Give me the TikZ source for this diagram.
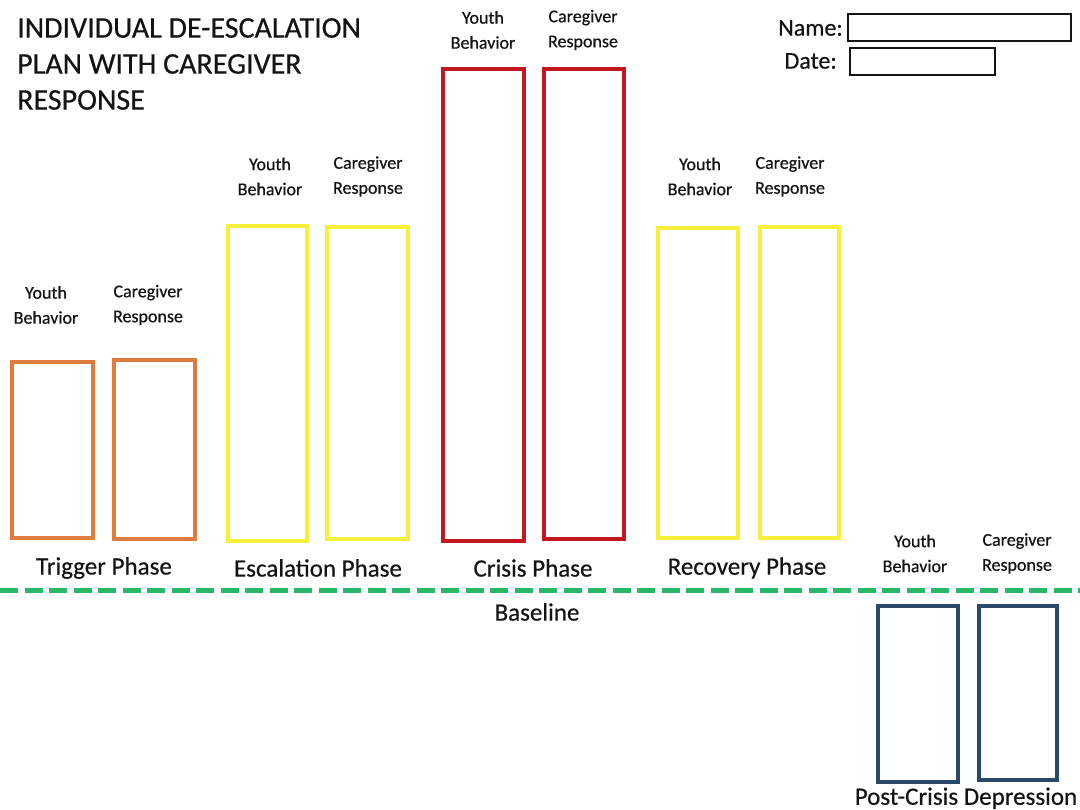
\documentclass[tikz,border=0pt]{standalone}
\usepackage{fontspec}
\setmainfont{Carlito}[FakeBold=0.5]
\definecolor{trig}{RGB}{222,124,62}
\definecolor{esc}{RGB}{246,240,58}
\definecolor{cris}{RGB}{196,24,30}
\definecolor{post}{RGB}{44,72,104}
\definecolor{base}{RGB}{40,184,104}
\definecolor{ink}{RGB}{20,20,20}
\tikzset{
  plbox/.style={draw=#1, line width=4pt, inner sep=0pt, fill=white},
  col/.style={align=center, font=\fontsize{18}{25}\selectfont, text=ink, inner sep=0pt},
  phase/.style={font=\fontsize{25}{28}\selectfont, text=ink, inner sep=0pt},
  field/.style={draw=ink, line width=1.2pt, inner sep=0pt},
}
\begin{document}
\begin{tikzpicture}[x=1pt,y=-1pt]
\useasboundingbox (0,0) rectangle (1080,810);
% title
\node[anchor=west, align=left, font=\fontsize{30}{36}\selectfont, text=ink, inner sep=0pt] (title) at (17,64)
  {INDIVIDUAL DE-ESCALATION\\PLAN WITH CAREGIVER\\RESPONSE};
% name/date
\node[field, minimum width=223, minimum height=27] (namebox) at (959.5,27.5) {};
\node[field, minimum width=145, minimum height=27] (datebox) at (922.5,61.5) {};
\node[phase, anchor=east, font=\fontsize{24}{28}\selectfont] (name) at (843,28) {Name:};
\node[phase, anchor=east, font=\fontsize{24}{28}\selectfont] (date) at (837,61) {Date:};
% baseline
\draw[base, line width=5pt, dash pattern=on 18pt off 6.5pt] (0,590) coordinate (bl) -- (1080,590) coordinate (br);
\node[phase] (baseline) at (537,612) {Baseline};
% trigger
\node[plbox=trig, minimum width=81, minimum height=176] (ty) at (52.5,450) {};
\node[plbox=trig, minimum width=81, minimum height=179] (tc) at (154.5,449.5) {};
\node[col] (tyl) at (46,305) {Youth\\Behavior};
\node[col] (tcl) at (148,305) {Caregiver\\Response};
\node[phase] (tp) at (104,568) {Trigger Phase};
% escalation
\node[plbox=esc, minimum width=79, minimum height=315] (ey) at (267.5,383.5) {};
\node[plbox=esc, minimum width=81, minimum height=312] (ec) at (367.5,383) {};
\node[col] (eyl) at (270,176.5) {Youth\\Behavior};
\node[col] (ecl) at (368,176.5) {Caregiver\\Response};
\node[phase] (ep) at (318,568) {Escalation Phase};
% crisis
\node[plbox=cris, minimum width=81, minimum height=472] (cy) at (483.5,305) {};
\node[plbox=cris, minimum width=80, minimum height=470] (cc) at (584,304) {};
\node[col] (cyl) at (483,30) {Youth\\Behavior};
\node[col] (ccl) at (583,30) {Caregiver\\Response};
\node[phase] (cp) at (533,568) {Crisis Phase};
% recovery
\node[plbox=esc, minimum width=80, minimum height=310] (ry) at (698,383) {};
\node[plbox=esc, minimum width=79, minimum height=311] (rc) at (799.5,382.5) {};
\node[col] (ryl) at (700,176.5) {Youth\\Behavior};
\node[col] (rcl) at (790,176.5) {Caregiver\\Response};
\node[phase] (rp) at (747,568) {Recovery Phase};
% post-crisis
\node[plbox=post, minimum width=80, minimum height=176] (py) at (918,694) {};
\node[plbox=post, minimum width=78, minimum height=174] (pc) at (1018,693) {};
\node[col] (pyl) at (915,553.5) {Youth\\Behavior};
\node[col] (pcl) at (1017,553.5) {Caregiver\\Response};
\node[phase, anchor=south] (pp) at (966,809) {Post-Crisis Depression};
\end{tikzpicture}
\end{document}
